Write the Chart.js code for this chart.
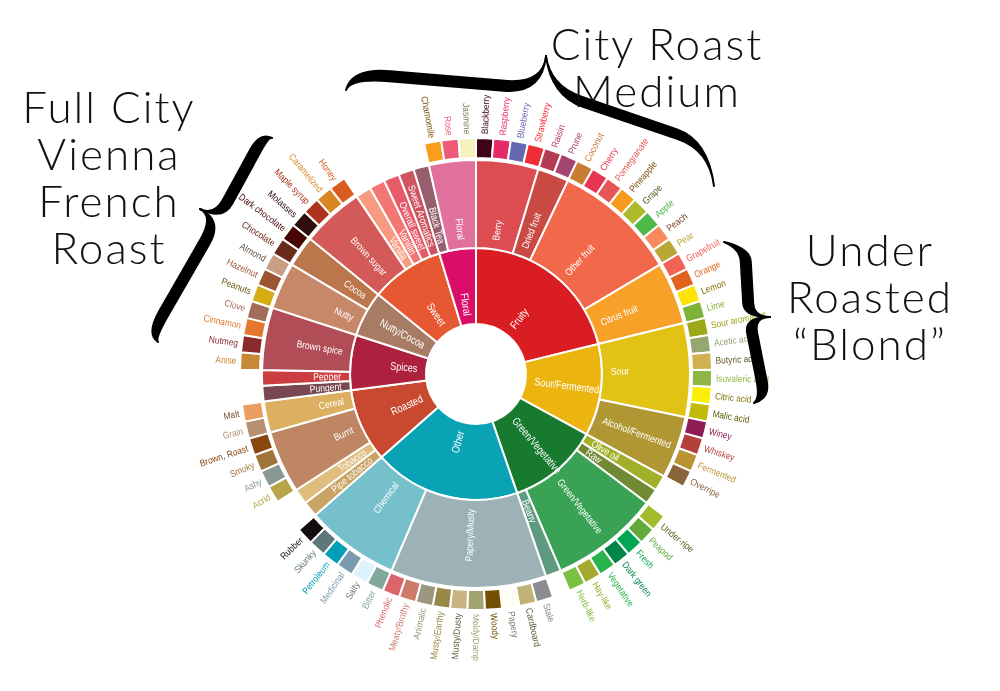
<!DOCTYPE html>
<html>
<head>
<meta charset="utf-8">
<script src="https://cdn.jsdelivr.net/npm/chart.js@4.4.1/dist/chart.umd.min.js"></script>
<style>
  html, body { margin: 0; padding: 0; background: #fff; }
  #wrap { position: relative; width: 1000px; height: 691px; overflow: hidden; }
  #wheel { position: absolute; left: 0; top: 0; }
  #braces { position: absolute; left: 0; top: 0; }
  .note { position: absolute; font-family: Lato, 'Open Sans', sans-serif; font-weight: 300;
          font-size: 44px; line-height: 47px; letter-spacing: 2px; text-align: center; color: #111; }
</style>
</head>
<body>
<div id="wrap">
  <canvas id="wheel" width="1000" height="691" style="width:1000px;height:691px"></canvas>
  <svg id="braces" width="1000" height="691"></svg>
  <div class="note" style="left:537px;top:20px;width:240px">City Roast<br>Medium</div>
  <div class="note" style="left:-11px;top:83px;width:240px">Full City<br>Vienna<br>French<br>Roast</div>
  <div class="note" style="left:750px;top:226px;width:240px">Under<br>Roasted<br>“Blond”</div>
</div>
<script>
// inner ring
const flavours = ['Fruity', 'Sour/Fermented', 'Green/Vegetative', 'Other', 'Roasted', 'Spices', 'Nutty/Cocoa', 'Sweet', 'Floral'];
const flavourColors = ['#da1d23', '#ebb40f', '#187a2f', '#0aa3b5', '#c94930', '#ad213e', '#a87b64', '#e65832', '#da0d68'];

// middle ring (parent = index in flavours)
const groups = ['Berry', 'Dried fruit', 'Other fruit', 'Citrus fruit',
  'Sour', 'Alcohol/Fermented',
  'Olive oil', 'Raw', 'Green/Vegetative', 'Beany',
  'Papery/Musty', 'Chemical',
  'Pipe tobacco', 'Tobacco', 'Burnt', 'Cereal',
  'Pungent', 'Pepper', 'Brown spice',
  'Nutty', 'Cocoa',
  'Brown sugar', 'Vanilla', 'Vanillin', 'Overall sweet', 'Sweet Aromatics',
  'Black Tea', 'Floral'];
const groupParent = [0, 0, 0, 0, 1, 1, 2, 2, 2, 2, 3, 3, 4, 4, 4, 4, 5, 5, 5, 6, 6, 7, 7, 7, 7, 7, 8, 8];
const groupColors = ['#dd4c51', '#c94a44', '#f2684b', '#f7a128',
  '#e1c315', '#b09733',
  '#a2b029', '#718933', '#3aa255', '#5e9a80',
  '#9db2b7', '#76c0cb',
  '#caa465', '#dfbd7e', '#be8663', '#ddaf61',
  '#794752', '#cc3d41', '#b14d57',
  '#c78869', '#bb764c',
  '#d45a59', '#f89a80', '#f37674', '#e75b68', '#d0545f',
  '#975e6d', '#e0719c'];

// outer ring (parent = index in groups)
const notes = ['Blackberry', 'Raspberry', 'Blueberry', 'Strawberry',
  'Raisin', 'Prune',
  'Coconut', 'Cherry', 'Pomegranate', 'Pineapple', 'Grape', 'Apple', 'Peach', 'Pear',
  'Grapefruit', 'Orange', 'Lemon', 'Lime',
  'Sour aromatics', 'Acetic acid', 'Butyric acid', 'Isovaleric acid', 'Citric acid', 'Malic acid',
  'Winey', 'Whiskey', 'Fermented', 'Overripe',
  'Under-ripe', 'Peapod', 'Fresh', 'Dark green', 'Vegetative', 'Hay-like', 'Herb-like',
  'Stale', 'Cardboard', 'Papery', 'Woody', 'Moldy/Damp', 'Musty/Dusty', 'Musty/Earthy', 'Animalic', 'Meaty/Brothy', 'Phenolic',
  'Bitter', 'Salty', 'Medicinal', 'Petroleum', 'Skunky', 'Rubber',
  'Acrid', 'Ashy', 'Smoky', 'Brown, Roast',
  'Grain', 'Malt',
  'Anise', 'Nutmeg', 'Cinnamon', 'Clove',
  'Peanuts', 'Hazelnut', 'Almond',
  'Chocolate', 'Dark chocolate',
  'Molasses', 'Maple syrup', 'Caramelized', 'Honey',
  'Chamomile', 'Rose', 'Jasmine'];
const noteParent = [0, 0, 0, 0, 1, 1, 2, 2, 2, 2, 2, 2, 2, 2, 3, 3, 3, 3,
  4, 4, 4, 4, 4, 4, 5, 5, 5, 5, 8, 8, 8, 8, 8, 8, 8,
  10, 10, 10, 10, 10, 10, 10, 10, 10, 10, 11, 11, 11, 11, 11, 11,
  14, 14, 14, 14, 15, 15, 18, 18, 18, 18, 19, 19, 19, 20, 20,
  21, 21, 21, 21, 27, 27, 27];
const noteColors = ['#3e0317', '#e62969', '#6569b0', '#ef2d36',
  '#b53b54', '#a5446f',
  '#c97b32', '#e73451', '#e65656', '#f89a1c', '#aeb92c', '#4eb849', '#f68a5c', '#baa635',
  '#f26355', '#e2631e', '#fde404', '#7eb138',
  '#9ea718', '#94a76f', '#d0b24f', '#8eb646', '#faef07', '#c1ba07',
  '#8f1c53', '#b34039', '#ba9232', '#8b6439',
  '#a2bb2b', '#62aa3c', '#03a653', '#038549', '#28b44b', '#a3a830', '#7ac141',
  '#8b8c90', '#beb276', '#fefef4', '#744e03', '#a3a36f', '#c9b583', '#978847', '#9d977f', '#cc7b6a', '#db646a',
  '#80a89d', '#def2fd', '#7a9bae', '#039fb8', '#5e777b', '#120c0c',
  '#b9a449', '#899893', '#a1743b', '#894810',
  '#b7906f', '#eb9d5f',
  '#c78936', '#8c292c', '#e5762e', '#a16c5a',
  '#d4ad12', '#9d5433', '#c89f83',
  '#692a19', '#470604',
  '#310d0f', '#ae341f', '#d78823', '#da5c1f',
  '#f99e1c', '#ef5a78', '#f7f1bd'];

// every note takes one slot, a group with no notes takes one empty slot
const outerLabels = [], outerValues = [], outerFill = [];
const groupValues = groups.map((g, gi) => {
  const kids = notes.map((n, i) => i).filter(i => noteParent[i] === gi);
  if (kids.length === 0) {
    outerLabels.push(''); outerValues.push(1); outerFill.push('rgba(0,0,0,0)');
    return 1;
  }
  kids.forEach(i => { outerLabels.push(notes[i]); outerValues.push(1); outerFill.push(noteColors[i]); });
  return kids.length;
});
const flavourValues = flavours.map((f, fi) =>
  groupValues.reduce((s, v, gi) => s + (groupParent[gi] === fi ? v : 0), 0));

function textColor(hex) {
  if (!hex.startsWith('#')) return hex;
  const r = parseInt(hex.slice(1, 3), 16), g = parseInt(hex.slice(3, 5), 16), b = parseInt(hex.slice(5, 7), 16);
  const bright = r * 0.299 + g * 0.587 + b * 0.114;
  if (bright < 160) return hex;
  return 'rgb(' + Math.round(r * 0.5) + ',' + Math.round(g * 0.5) + ',' + Math.round(b * 0.5) + ')';
}

const cx = 476, cy = 374, holeR = 50, outerR = 236;
const W = 1000, H = 691;

const ringText = [
  { dataset: 0, texts: outerLabels, font: '9.5px "Liberation Sans", Arial, sans-serif', squeeze: 0.88,
    outside: true, pad: 4, color: i => textColor(outerFill[i]) },
  { dataset: 2, texts: groups, font: '10px "Liberation Sans", Arial, sans-serif', squeeze: 0.86,
    outside: false, pad: 9, color: () => '#fff' },
  { dataset: 3, texts: flavours, font: '11px "Liberation Sans", Arial, sans-serif', squeeze: 0.82,
    outside: false, pad: 9, color: () => '#fff' }
];

const wheelLabels = {
  id: 'wheelLabels',
  afterDatasetsDraw(chart) {
    const ctx = chart.ctx;
    ringText.forEach(ring => {
      chart.getDatasetMeta(ring.dataset).data.forEach((arc, i) => {
        const text = ring.texts[i];
        if (!text) return;
        const p = arc.getProps(['x', 'y', 'startAngle', 'endAngle', 'innerRadius', 'outerRadius'], true);
        const mid = (p.startAngle + p.endAngle) / 2;
        let deg = (mid * 180 / Math.PI + 90) % 360;
        if (deg < 0) deg += 360;
        const r0 = ring.outside ? p.outerRadius + ring.pad : p.innerRadius + ring.pad;
        ctx.save();
        ctx.translate(p.x, p.y);
        ctx.font = ring.font;
        ctx.fillStyle = ring.color(i);
        ctx.textBaseline = 'middle';
        if (deg < 181) {
          ctx.rotate(mid);
          ctx.scale(ring.squeeze, 1);
          ctx.textAlign = 'left';
          ctx.fillText(text, r0 / ring.squeeze, 0.5);
        } else {
          ctx.rotate(mid + Math.PI);
          ctx.scale(ring.squeeze, 1);
          ctx.textAlign = 'right';
          ctx.fillText(text, -r0 / ring.squeeze, 0.5);
        }
        ctx.restore();
      });
    });
  }
};

new Chart(document.getElementById('wheel'), {
  type: 'doughnut',
  data: {
    labels: outerLabels,
    datasets: [
      { data: outerValues, backgroundColor: outerFill, borderColor: '#fff', borderWidth: 2, weight: 20 },
      { data: [1], backgroundColor: 'rgba(0,0,0,0)', borderWidth: 0, weight: 2 },
      { data: groupValues, backgroundColor: groupColors, borderColor: '#fff', borderWidth: 2, weight: 88 },
      { data: flavourValues, backgroundColor: flavourColors, borderColor: '#fff', borderWidth: 2, weight: 76 }
    ]
  },
  options: {
    responsive: false,
    animation: false,
    events: [],
    radius: outerR,
    cutout: (holeR / outerR * 100) + '%',
    layout: { padding: { left: cx - outerR - 2, right: W - cx - outerR - 2, top: cy - outerR - 2, bottom: H - cy - outerR - 2 } },
    plugins: { legend: { display: false }, tooltip: { enabled: false } }
  },
  plugins: [wheelLabels]
});

// curly braces next to the roast notes: each half is a tapered ink stroke
function braceHalf(a, a1, c1, c, t) {
  const dx = c[0] - c1[0], dy = c[1] - c1[1], len = Math.hypot(dx, dy);
  const o = [-dx / len * t, -dy / len * t];
  const b1 = [a1[0] + o[0], a1[1] + o[1]], d1 = [c1[0] + o[0], c1[1] + o[1]];
  const lerp = (p, q, k) => [p[0] + (q[0] - p[0]) * k, p[1] + (q[1] - p[1]) * k];
  const pa = lerp(a1, c1, 0.2), pc = lerp(a1, c1, 0.8);
  const qa = lerp(b1, d1, 0.2), qc = lerp(b1, d1, 0.8);
  return 'M' + a + ' Q' + a1 + ' ' + pa + ' L' + pc + ' Q' + c1 + ' ' + c +
         ' Q' + d1 + ' ' + qc + ' L' + qa + ' Q' + b1 + ' ' + a + ' Z';
}
const braceParts = [
  braceHalf([346, 90], [352, 68], [543, 84], [546, 56], 10),
  braceHalf([714, 186], [708, 140], [550, 86], [546, 56], 10),
  braceHalf([272, 138], [260, 132], [214, 216], [200, 209], 10),
  braceHalf([158, 342], [146, 334], [214, 216], [200, 209], 10),
  braceHalf([724, 242], [750, 248], [754, 317], [770, 317], 10),
  braceHalf([754, 403], [770, 398], [754, 317], [770, 317], 10)
];
const svg = document.getElementById('braces');
braceParts.forEach(d => {
  const path = document.createElementNS('http://www.w3.org/2000/svg', 'path');
  path.setAttribute('d', d);
  path.setAttribute('fill', '#000');
  path.setAttribute('stroke', '#000');
  path.setAttribute('stroke-width', '2');
  path.setAttribute('stroke-linejoin', 'round');
  svg.appendChild(path);
});
</script>
</body>
</html>
